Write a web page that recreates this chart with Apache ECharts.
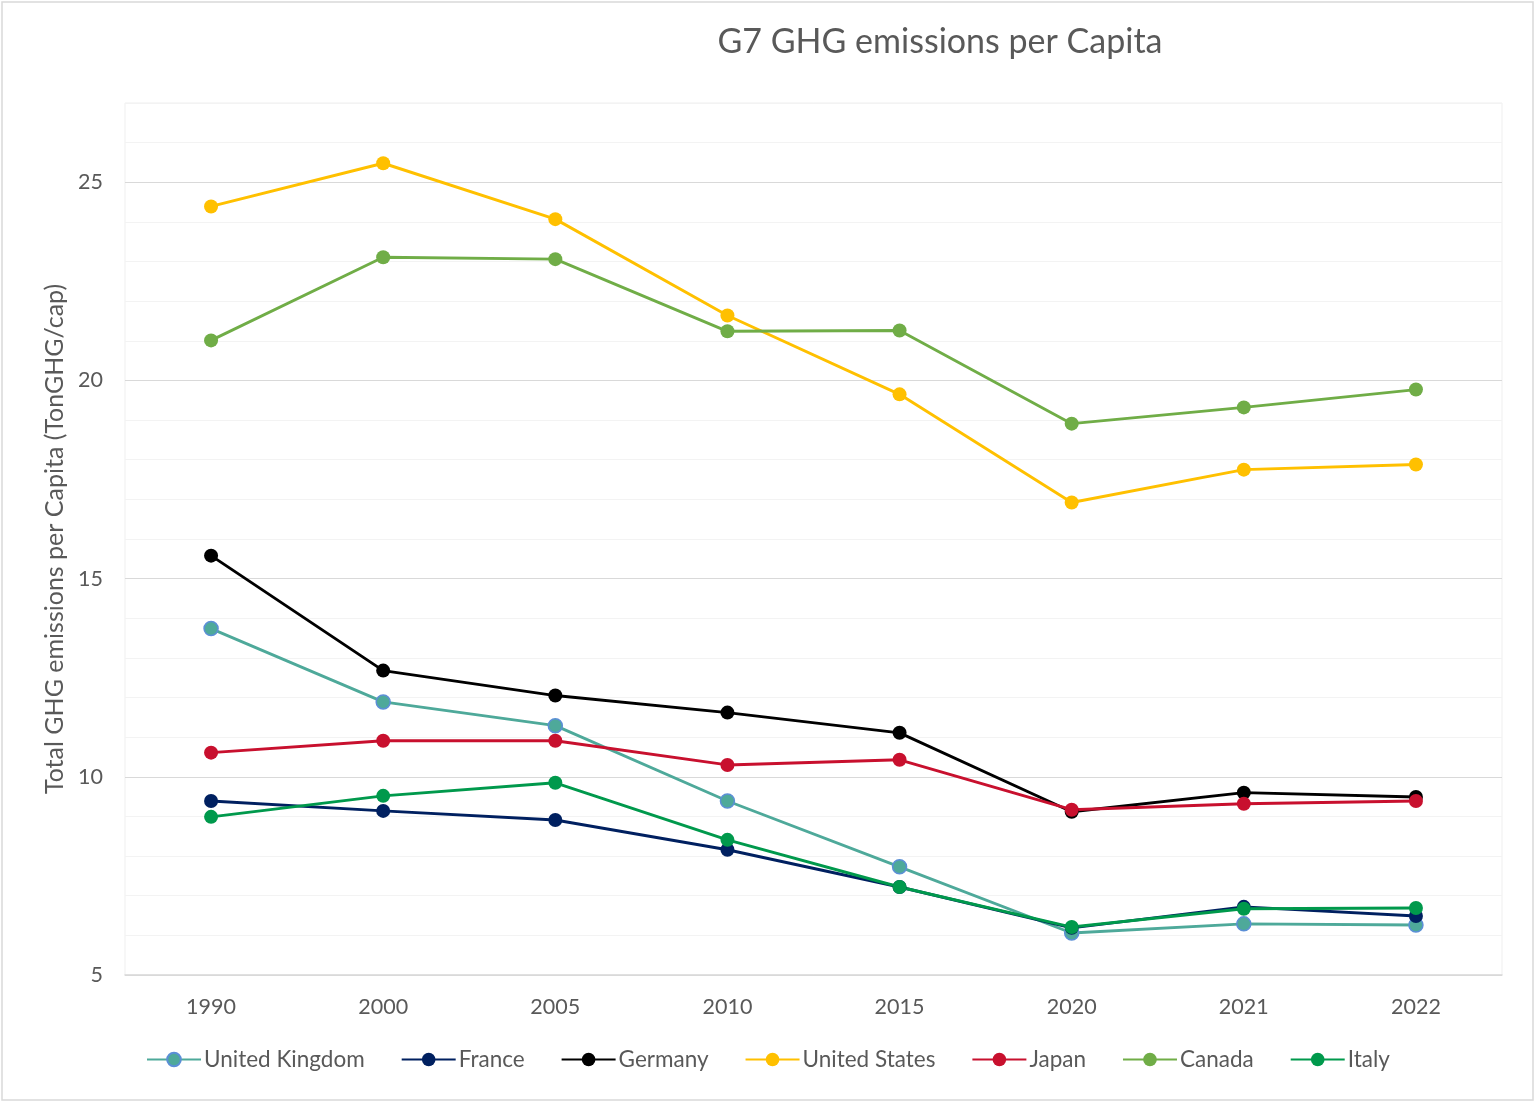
<!DOCTYPE html>
<html>
<head>
<meta charset="utf-8">
<script src="https://cdn.jsdelivr.net/npm/echarts@6/dist/echarts.min.js"></script>
<style>
html,body{margin:0;padding:0;background:#fff;}
#c{width:1536px;height:1105px;}
</style>
</head>
<body>
<div id="c"></div>
<script>
const years = ['1990','2000','2005','2010','2015','2020','2021','2022'];
const unitedKingdom = [13.74, 11.89, 11.29, 9.39, 7.73, 6.06, 6.29, 6.26];
const france        = [9.39, 9.14, 8.91, 8.16, 7.22, 6.19, 6.72, 6.49];
const germany       = [15.58, 12.68, 12.05, 11.62, 11.11, 9.12, 9.60, 9.49];
const unitedStates  = [24.39, 25.48, 24.07, 21.64, 19.65, 16.92, 17.75, 17.88];
const japan         = [10.61, 10.91, 10.91, 10.30, 10.43, 9.17, 9.32, 9.39];
const canada        = [21.01, 23.11, 23.06, 21.24, 21.26, 18.91, 19.32, 19.77];
const italy         = [8.99, 9.52, 9.85, 8.41, 7.22, 6.21, 6.67, 6.69];

const seriesDefs = [
  {name:'United Kingdom', data:unitedKingdom, color:'#4EA99A', border:'#5B8FD6'},
  {name:'France', data:france, color:'#002060'},
  {name:'Germany', data:germany, color:'#000000'},
  {name:'United States', data:unitedStates, color:'#FFC000'},
  {name:'Japan', data:japan, color:'#C8102E'},
  {name:'Canada', data:canada, color:'#70AD47'},
  {name:'Italy', data:italy, color:'#00994C'}
];

const FONT = 'Lato, "Open Sans", sans-serif';
const chart = echarts.init(document.getElementById('c'), null, {renderer:'canvas'});
chart.setOption({
  animation:false,
  backgroundColor:'#fff',
  textStyle:{fontFamily:FONT},
  graphic:[{type:'rect', shape:{x:2,y:2,width:1531,height:1098}, style:{fill:'none', stroke:'#D9D9D9', lineWidth:1.5}, silent:true}],
  title:{
    text:'G7 GHG emissions per Capita',
    left:935, top:20, textAlign:'center',
    textStyle:{fontFamily:FONT, fontSize:34, fontWeight:'normal', color:'#595959'}
  },
  legend:{
    left:141, top:1043,
    itemWidth:54, itemHeight:17, itemGap:36,
    textStyle:{fontFamily:FONT, fontSize:22.5, color:'#595959', padding:[0,0,0,-2]},
    data: seriesDefs.map(s=>({name:s.name}))
  },
  grid:{left:125, right:34, top:103, bottom:130, show:true, borderColor:'#EFEFEF', borderWidth:1, containLabel:false},
  xAxis:{
    type:'category', data:years, boundaryGap:true,
    axisLine:{show:true, lineStyle:{color:'#D9D9D9', width:1.5}},
    axisTick:{show:false},
    axisLabel:{fontFamily:FONT, fontSize:21.5, color:'#595959', margin:21}
  },
  yAxis:{
    type:'value', min:5, max:27, interval:1,
    name:'Total GHG emissions per Capita (TonGHG/cap)',
    nameLocation:'middle', nameGap:58, nameRotate:90,
    nameTextStyle:{fontFamily:FONT, fontSize:25, color:'#595959'},
    axisLine:{show:false}, axisTick:{show:false},
    axisLabel:{fontFamily:FONT, fontSize:21.5, color:'#595959', margin:22,
      formatter:v=> (v % 5 === 0 && v !== 27) ? String(v) : ''},
    splitLine:{show:true, lineStyle:{width:1.2, color:['#D9D9D9','#F3F3F3','#F3F3F3','#F3F3F3','#F3F3F3']}}
  },
  series: seriesDefs.map(s=>({
    name:s.name, type:'line', data:s.data,
    symbol:'circle', symbolSize:14,
    lineStyle:{color:s.color, width:2.9},
    itemStyle:{color:s.color, borderColor:s.border||s.color, borderWidth:s.border?1.5:0},
    emphasis:{disabled:true}
  }))
});
</script>
</body>
</html>
